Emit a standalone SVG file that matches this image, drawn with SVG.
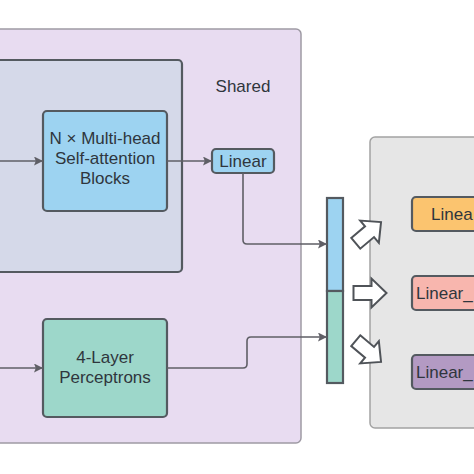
<svg xmlns="http://www.w3.org/2000/svg" width="474" height="474" viewBox="0 0 474 474">
<defs>
<style>
text{font-family:"Liberation Sans",Arial,sans-serif;fill:#2f363d;font-size:17px;}
.lbl{text-anchor:middle;}
.node{stroke:#545a60;stroke-width:2.2;}
.conn{fill:none;stroke:#5f5f66;stroke-width:1.6;}
.blk{fill:#ffffff;stroke:#4f5358;stroke-width:2;stroke-linejoin:miter;}
</style>
<marker id="ah" viewBox="0 0 10 10" refX="10" refY="5" markerWidth="9" markerHeight="9" markerUnits="userSpaceOnUse" orient="auto">
<path d="M0,0 L10,5 L0,10 L2,5 Z" fill="#5f5f66"/>
</marker>
<path id="barrow" d="M-16,-7 L2,-7 L2,-14.5 L17,0 L2,14.5 L2,7 L-16,7 Z"/>
</defs>
<rect width="474" height="474" fill="#ffffff"/>
<g id="shared-panel">
<rect x="-10" y="29" width="311" height="414" rx="5" fill="#e8dcf1" stroke="#9e9aa4" stroke-width="1.5"/>
<text x="243" y="92" class="lbl">Shared</text>
</g>
<g id="heads-panel">
<rect x="370" y="137" width="120" height="291" rx="5" fill="#e6e6e6" stroke="#a3a3a3" stroke-width="1.5"/>
</g>
<g id="encoder-box">
<rect x="-10" y="60" width="192" height="212" rx="4" fill="#d5d9e9" class="node"/>
</g>
<g id="self-attention">
<rect x="43" y="111" width="124" height="100" rx="4" fill="#9dd3f1" class="node"/>
<text x="105" y="144" class="lbl">N × Multi-head</text>
<text x="105" y="164" class="lbl">Self-attention</text>
<text x="105" y="184" class="lbl">Blocks</text>
</g>
<g id="linear">
<rect x="212" y="149" width="62" height="24" rx="4" fill="#9dd3f1" class="node"/>
<text x="243" y="167" class="lbl">Linear</text>
</g>
<g id="perceptrons">
<rect x="43" y="319" width="124" height="98" rx="4" fill="#9dd7ca" class="node"/>
<text x="105" y="363" class="lbl">4-Layer</text>
<text x="105" y="383" class="lbl">Perceptrons</text>
</g>
<g id="concat-bar">
<rect x="327" y="198" width="16" height="93" fill="#9dd3f1" class="node"/>
<rect x="327" y="291" width="16" height="92" fill="#9dd7ca" class="node"/>
</g>
<g id="head-1">
<rect x="412" y="197" width="80" height="34" rx="4" fill="#fbc46f" class="node"/>
<text x="431" y="220">Linea</text>
</g>
<g id="head-2">
<rect x="412" y="276" width="80" height="34" rx="4" fill="#f8b6ae" class="node"/>
<text x="416" y="299">Linear_</text>
</g>
<g id="head-3">
<rect x="412" y="355" width="80" height="34" rx="4" fill="#b39ac3" class="node"/>
<text x="416" y="378">Linear_</text>
</g>
<g id="connectors">
<path class="conn" d="M0,161 L43,161" marker-end="url(#ah)"/>
<path class="conn" d="M167,161 L212,161" marker-end="url(#ah)"/>
<path class="conn" d="M243,173 L243,240 Q243,244 247,244 L327,244" marker-end="url(#ah)"/>
<path class="conn" d="M0,368 L43,368" marker-end="url(#ah)"/>
<path class="conn" d="M167,368 L243,368 Q247,368 247,364 L247,341 Q247,337 251,337 L327,337" marker-end="url(#ah)"/>
<use href="#barrow" class="blk" transform="translate(368,233) rotate(-40)"/>
<use href="#barrow" class="blk" transform="translate(369.5,293)"/>
<use href="#barrow" class="blk" transform="translate(368,351) rotate(40)"/>
</g>
</svg>
